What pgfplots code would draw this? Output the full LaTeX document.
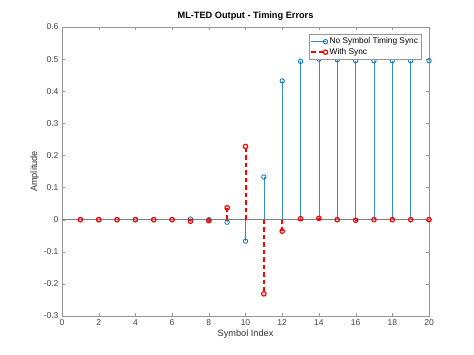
\documentclass[border=0pt]{standalone}
\usepackage{fontspec}
\setmainfont{Liberation Sans}
\usepackage{pgfplots}
\pgfplotsset{compat=1.18}
\definecolor{mblue}{RGB}{0,114,189}
\definecolor{mred}{RGB}{255,0,0}
\definecolor{axgray}{RGB}{150,150,150}
\begin{document}
\begin{tikzpicture}
\begin{axis}[
  at={(0pt,0pt)}, anchor=south west,
  scale only axis, width=367pt, height=289pt,
  xmin=0, xmax=20, ymin=-0.3, ymax=0.6,
  xtick={0,2,...,20},
  ytick={-0.3,-0.2,-0.1,0,0.1,0.2,0.3,0.4,0.5,0.6},
  yticklabel style={/pgf/number format/fixed, /pgf/number format/precision=1},
  /pgf/number format/assume math mode=true,
  tick align=inside,
  major tick length=3pt,
  axis line style={axgray},
  tick style={axgray},
  ticklabel style={font=\fontsize{8.5}{9}\selectfont, text=black!75},
  title={\textbf{ML-TED Output - Timing Errors}},
  title style={font=\fontsize{9.2}{10}\selectfont, yshift=-3pt},
  xlabel={Symbol Index},
  ylabel={Amplitude},
  label style={font=\fontsize{9.2}{10}\selectfont, text=black!80},
  xlabel style={yshift=3pt},
  ylabel style={yshift=-2pt},
  legend style={at={(0.98,0.975)}, anchor=north east, draw=axgray, font=\fontsize{8.3}{9}\selectfont, inner sep=1.5pt, row sep=-1pt, cells={anchor=west}},
  legend image code/.code={
    \draw[#1, mark=none] (0cm,0cm) -- (0.5cm,0cm);
    \draw[#1, solid, only marks] plot coordinates {(0.5cm,0cm)};
  },
]
\addplot[gray, line width=0.5pt, forget plot] coordinates {(0,0) (20,0)};
\addplot[ycomb, draw=mblue!80, color=mblue!80, line width=0.5pt, mark=o, mark size=2.2pt, mark options={draw=mblue, solid, line width=0.8pt}] coordinates {
(1,0) (2,0) (3,0) (4,0) (5,0) (6,0) (7,0.002) (8,0.0) (9,-0.008) (10,-0.067)
(11,0.133) (12,0.432) (13,0.493) (14,0.500) (15,0.498) (16,0.495) (17,0.495) (18,0.495) (19,0.495) (20,0.495)};
\addlegendentry{No Symbol Timing Sync}
\addplot[ycomb, draw=mred, color=mred, line width=2pt, line cap=butt, dash pattern=on 4.5pt off 3pt, mark=o, mark size=2.2pt, mark options={draw=mred, solid, line width=1.2pt}] coordinates {
(1,0) (2,0) (3,0) (4,0) (5,0) (6,0) (7,-0.005) (8,-0.003) (9,0.037) (10,0.228)
(11,-0.231) (12,-0.036) (13,0.003) (14,0.004) (15,0.0) (16,-0.002) (17,0) (18,0) (19,0) (20,0)};
\addlegendentry{With Sync}
\end{axis}
\path[use as bounding box] (-62pt,-39pt) rectangle (412pt,316pt);
\end{tikzpicture}
\end{document}
